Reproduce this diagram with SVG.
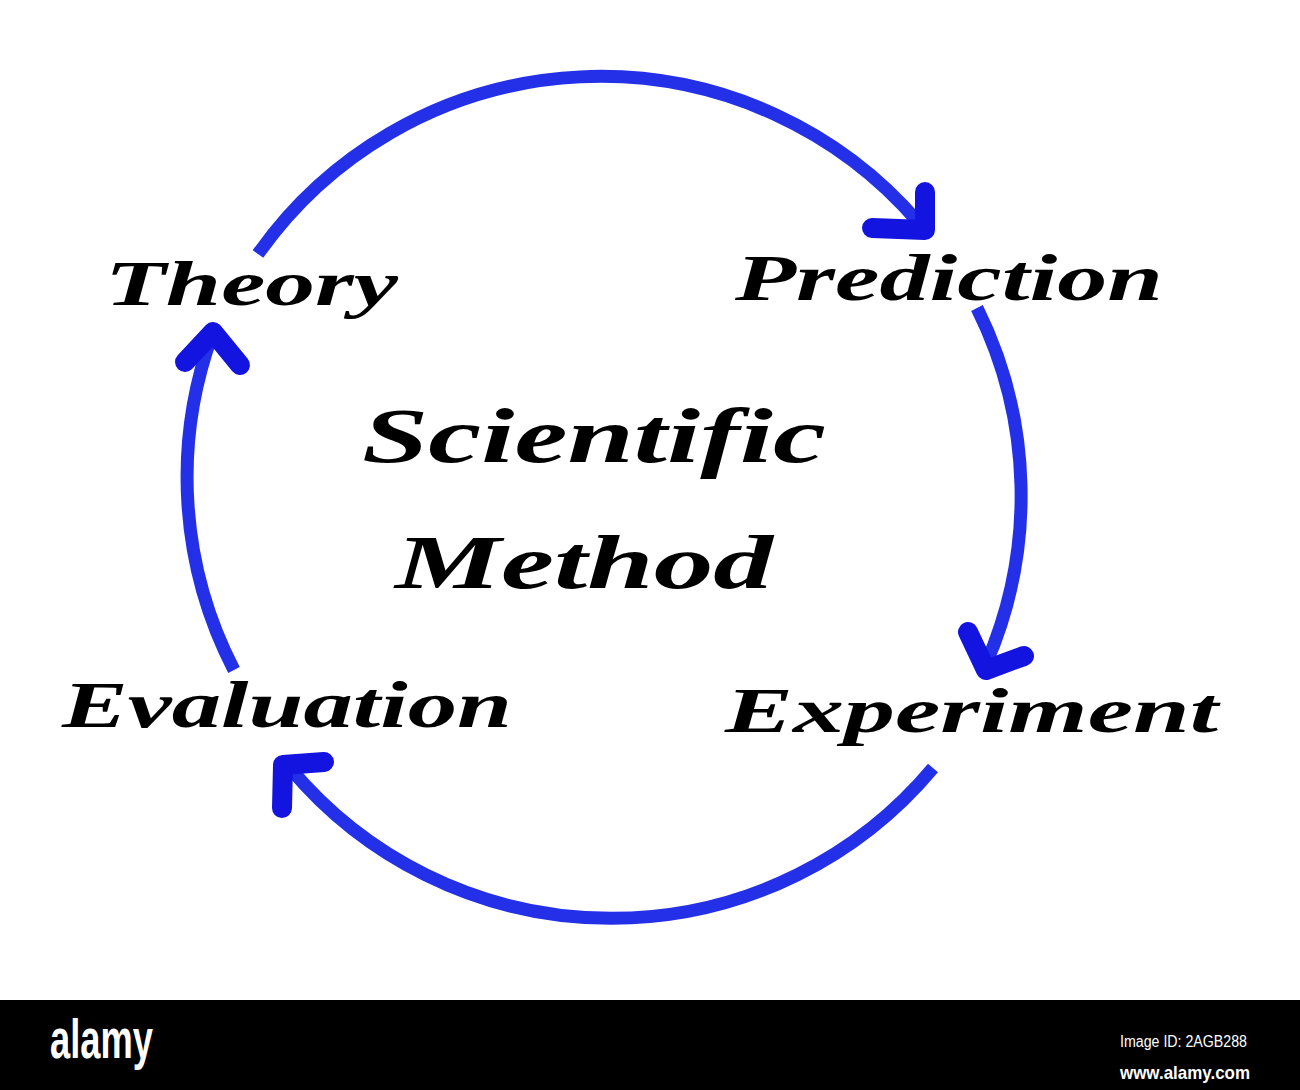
<svg xmlns="http://www.w3.org/2000/svg" width="1300" height="1090" viewBox="0 0 1300 1090">
<style>
.arc{fill:none;stroke:#2430e8;stroke-width:13}
.head{fill:none;stroke:#1414e0;stroke-width:20;stroke-linecap:round;stroke-linejoin:round}
.lbl{font-family:"Liberation Serif",serif;font-weight:bold;font-style:italic;fill:#000}
.ft{font-family:"Liberation Sans",sans-serif;fill:#fff}
</style>
<rect x="0" y="0" width="1300" height="1090" fill="#fff"/>
<g id="connectors">
<path class="arc" d="M258,254 A419,419 0 0 1 918,222"/>
<path class="head" d="M925,192 L925,230 L872,228"/>
<path class="arc" d="M977,308 A421,421 0 0 1 986,664"/>
<path class="head" d="M968,632 L986,670 L1024,656"/>
<path class="arc" d="M933,768 A419,419 0 0 1 290,768"/>
<path class="head" d="M282,808 L283,765 L324,762"/>
<path class="arc" d="M234,670 A419,419 0 0 1 212,335"/>
<path class="head" d="M185,362 L213,332 L240,365"/>
</g>
<g id="theory"><text class="lbl" x="105" y="305" font-size="64" textLength="293" lengthAdjust="spacingAndGlyphs">Theory</text></g>
<g id="prediction"><text class="lbl" x="735" y="300" font-size="66" textLength="428" lengthAdjust="spacingAndGlyphs">Prediction</text></g>
<g id="experiment"><text class="lbl" x="725" y="732" font-size="64" textLength="493" lengthAdjust="spacingAndGlyphs">Experiment</text></g>
<g id="evaluation"><text class="lbl" x="62" y="727" font-size="66" textLength="450" lengthAdjust="spacingAndGlyphs">Evaluation</text></g>
<g id="center">
<text class="lbl" x="362" y="462" font-size="78" textLength="464" lengthAdjust="spacingAndGlyphs">Scientific</text>
<text class="lbl" x="395" y="588" font-size="76" textLength="378" lengthAdjust="spacingAndGlyphs">Method</text>
</g>
<g id="footer">
<rect x="0" y="1000" width="1300" height="90" fill="#000"/>
<text class="ft" x="50" y="1058" font-size="56" font-weight="bold" textLength="103" lengthAdjust="spacingAndGlyphs">alamy</text>
<text class="ft" x="1120" y="1047" font-size="16" textLength="127" lengthAdjust="spacingAndGlyphs">Image ID: 2AGB288</text>
<text class="ft" x="1120" y="1079" font-size="19" font-weight="bold" textLength="130" lengthAdjust="spacingAndGlyphs">www.alamy.com</text>
</g>
</svg>
